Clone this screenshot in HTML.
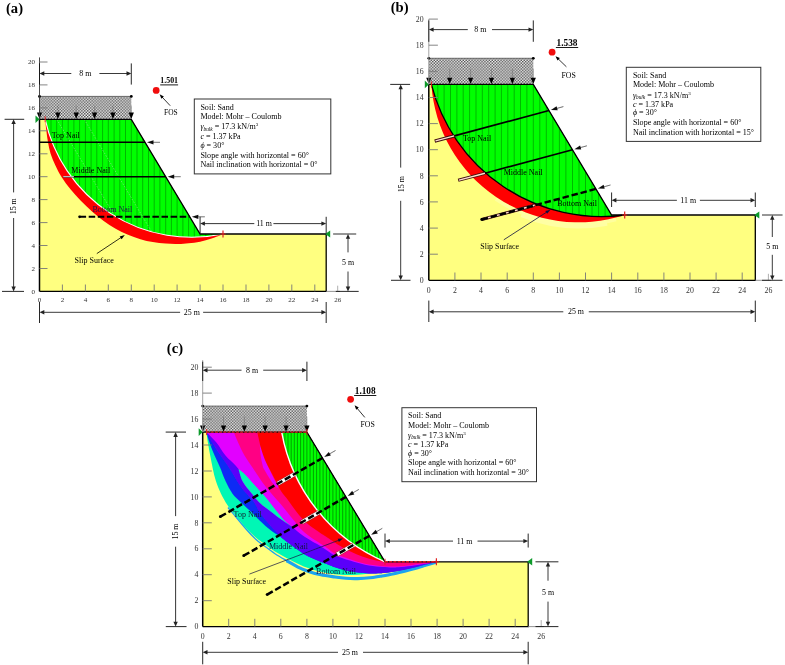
<!DOCTYPE html>
<html lang="en"><head><meta charset="utf-8"><title>Soil nailed slope – slip surfaces</title>
<style>html,body{margin:0;padding:0;background:#fff}svg{display:block}text{font-family:"Liberation Serif",serif}</style></head><body>
<svg width="785" height="665" viewBox="0 0 785 665">
<defs><filter id="soft" x="0" y="0" width="100%" height="100%" filterUnits="userSpaceOnUse"><feGaussianBlur stdDeviation="0.42"/></filter><pattern id="chk" width="2.9" height="2.9" patternUnits="userSpaceOnUse"><rect width="2.9" height="2.9" fill="#fff"/><rect width="1.45" height="1.45" fill="#474747"/><rect x="1.45" y="1.45" width="1.45" height="1.45" fill="#474747"/></pattern></defs>
<rect width="785" height="665" fill="#fff"/>
<g filter="url(#soft)">
<g id="panel-a">
<polygon points="39.5,291.4 39.5,119.3 131.3,119.3 200.1,234.0 326.2,234.0 326.2,291.4" fill="#ffff80"/>
<path d="M45.2,119.3 C45.4,121.3 45.9,127.0 46.4,130.8 C46.8,134.6 47.3,138.5 48.0,142.3 C48.7,146.1 49.4,149.9 50.6,153.8 C51.8,157.6 53.5,161.3 55.3,165.2 C57.2,169.2 59.3,173.6 61.9,177.6 C64.4,181.6 67.3,185.5 70.5,189.3 C73.6,193.2 77.2,197.1 80.8,200.8 C84.4,204.5 88.4,208.3 92.3,211.7 C96.1,215.0 99.9,218.0 103.7,220.9 C107.6,223.7 111.3,226.3 115.2,228.5 C119.1,230.8 123.2,232.8 127.4,234.6 C131.6,236.4 136.2,238.0 140.4,239.2 C144.7,240.5 148.6,241.4 152.8,242.1 C157.0,242.8 161.4,243.3 165.7,243.6 C169.9,243.9 174.5,244.0 178.3,243.9 C182.1,243.9 185.0,243.6 188.6,243.2 C192.2,242.9 196.3,242.5 200.1,241.7 C203.9,241.0 207.7,239.9 211.6,238.6 C215.4,237.4 221.1,234.8 223.0,234.0 L200.1,234.0 L131.3,119.3 Z" fill="#ff0000"/>
<path d="M45.2,119.3 A150.0 150.0 0 0 0 223.0,234.0 L200.1,234.0 L131.3,119.3 Z" fill="#00ff00"/>
<line x1="51.0" y1="119.3" x2="51.0" y2="139.3" stroke="#0a8a0a" stroke-width="0.6" />
<line x1="56.7" y1="119.3" x2="56.7" y2="152.8" stroke="#0a8a0a" stroke-width="0.6" />
<line x1="62.4" y1="119.3" x2="62.4" y2="163.5" stroke="#0a8a0a" stroke-width="0.6" />
<line x1="68.2" y1="119.3" x2="68.2" y2="172.5" stroke="#0a8a0a" stroke-width="0.6" />
<line x1="73.9" y1="119.3" x2="73.9" y2="180.3" stroke="#0a8a0a" stroke-width="0.6" />
<line x1="79.6" y1="119.3" x2="79.6" y2="187.1" stroke="#0a8a0a" stroke-width="0.6" />
<line x1="85.4" y1="119.3" x2="85.4" y2="193.2" stroke="#0a8a0a" stroke-width="0.6" />
<line x1="91.1" y1="119.3" x2="91.1" y2="198.7" stroke="#0a8a0a" stroke-width="0.6" />
<line x1="96.8" y1="119.3" x2="96.8" y2="203.6" stroke="#0a8a0a" stroke-width="0.6" />
<line x1="102.6" y1="119.3" x2="102.6" y2="208.0" stroke="#0a8a0a" stroke-width="0.6" />
<line x1="108.3" y1="119.3" x2="108.3" y2="212.1" stroke="#0a8a0a" stroke-width="0.6" />
<line x1="114.1" y1="119.3" x2="114.1" y2="215.7" stroke="#0a8a0a" stroke-width="0.6" />
<line x1="119.8" y1="119.3" x2="119.8" y2="219.0" stroke="#0a8a0a" stroke-width="0.6" />
<line x1="125.5" y1="119.3" x2="125.5" y2="222.0" stroke="#0a8a0a" stroke-width="0.6" />
<line x1="131.3" y1="119.3" x2="131.3" y2="224.7" stroke="#0a8a0a" stroke-width="0.6" />
<line x1="137.0" y1="128.9" x2="137.0" y2="227.0" stroke="#0a8a0a" stroke-width="0.6" />
<line x1="142.7" y1="138.5" x2="142.7" y2="229.2" stroke="#0a8a0a" stroke-width="0.6" />
<line x1="148.5" y1="148.0" x2="148.5" y2="231.0" stroke="#0a8a0a" stroke-width="0.6" />
<line x1="154.2" y1="157.6" x2="154.2" y2="232.6" stroke="#0a8a0a" stroke-width="0.6" />
<line x1="159.9" y1="167.1" x2="159.9" y2="234.0" stroke="#0a8a0a" stroke-width="0.6" />
<line x1="165.7" y1="176.7" x2="165.7" y2="235.1" stroke="#0a8a0a" stroke-width="0.6" />
<line x1="171.4" y1="186.3" x2="171.4" y2="236.0" stroke="#0a8a0a" stroke-width="0.6" />
<line x1="177.1" y1="195.8" x2="177.1" y2="236.7" stroke="#0a8a0a" stroke-width="0.6" />
<line x1="182.9" y1="205.4" x2="182.9" y2="237.1" stroke="#0a8a0a" stroke-width="0.6" />
<line x1="188.6" y1="214.9" x2="188.6" y2="237.3" stroke="#0a8a0a" stroke-width="0.6" />
<line x1="194.3" y1="224.5" x2="194.3" y2="237.4" stroke="#0a8a0a" stroke-width="0.6" />
<line x1="200.1" y1="234.0" x2="200.1" y2="237.1" stroke="#0a8a0a" stroke-width="0.6" />
<line x1="205.8" y1="234.0" x2="205.8" y2="236.7" stroke="#0a8a0a" stroke-width="0.6" />
<line x1="211.6" y1="234.0" x2="211.6" y2="236.1" stroke="#0a8a0a" stroke-width="0.6" />
<line x1="217.3" y1="234.0" x2="217.3" y2="235.2" stroke="#0a8a0a" stroke-width="0.6" />
<line x1="84.2" y1="119.3" x2="152.0" y2="232.3" stroke="#9ad89a" stroke-width="0.6" stroke-dasharray="1.5 1.5"/>
<line x1="56.7" y1="119.3" x2="114.9" y2="216.3" stroke="#9ad89a" stroke-width="0.6" stroke-dasharray="1.5 1.5"/>
<path d="M45.2,119.3 A150.0 150.0 0 0 0 223.0,234.0" fill="none" stroke="#fff" stroke-width="1.1"/>
<rect x="39.5" y="96.4" width="91.8" height="22.9" fill="url(#chk)"/>
<line x1="39.5" y1="96.4" x2="131.3" y2="96.4" stroke="#666" stroke-width="1" />
<circle cx="39.5" cy="96.4" r="1.4" fill="#000"/>
<circle cx="131.3" cy="96.4" r="1.4" fill="#000"/>
<line x1="39.5" y1="105.6" x2="39.5" y2="114.8" stroke="#666" stroke-width="0.5" />
<polygon points="39.5,119.0 36.9,112.6 42.1,112.6" fill="#000"/>
<line x1="57.9" y1="105.6" x2="57.9" y2="114.8" stroke="#666" stroke-width="0.5" />
<polygon points="57.9,119.0 55.2,112.6 60.5,112.6" fill="#000"/>
<line x1="76.2" y1="105.6" x2="76.2" y2="114.8" stroke="#666" stroke-width="0.5" />
<polygon points="76.2,119.0 73.6,112.6 78.9,112.6" fill="#000"/>
<line x1="94.6" y1="105.6" x2="94.6" y2="114.8" stroke="#666" stroke-width="0.5" />
<polygon points="94.6,119.0 91.9,112.6 97.2,112.6" fill="#000"/>
<line x1="112.9" y1="105.6" x2="112.9" y2="114.8" stroke="#666" stroke-width="0.5" />
<polygon points="112.9,119.0 110.3,112.6 115.6,112.6" fill="#000"/>
<line x1="131.3" y1="105.6" x2="131.3" y2="114.8" stroke="#666" stroke-width="0.5" />
<polygon points="131.3,119.0 128.6,112.6 133.9,112.6" fill="#000"/>
<polyline points="39.5,119.3 131.3,119.3 200.1,234.0 326.2,234.0 326.2,291.4 39.5,291.4" fill="none" stroke="#000" stroke-width="1.3"/>
<line x1="39.5" y1="57.4" x2="39.5" y2="119.3" stroke="#333" stroke-width="0.9" />
<line x1="39.5" y1="119.3" x2="39.5" y2="291.4" stroke="#000" stroke-width="1.5" />
<text x="35.0" y="293.8" font-size="7.0" text-anchor="end" font-weight="normal" fill="#333" >0</text>
<line x1="39.5" y1="268.5" x2="47.5" y2="268.5" stroke="#777" stroke-width="0.9" />
<text x="35.0" y="270.8" font-size="7.0" text-anchor="end" font-weight="normal" fill="#333" >2</text>
<line x1="39.5" y1="245.5" x2="47.5" y2="245.5" stroke="#777" stroke-width="0.9" />
<text x="35.0" y="247.9" font-size="7.0" text-anchor="end" font-weight="normal" fill="#333" >4</text>
<line x1="39.5" y1="222.6" x2="47.5" y2="222.6" stroke="#777" stroke-width="0.9" />
<text x="35.0" y="225.0" font-size="7.0" text-anchor="end" font-weight="normal" fill="#333" >6</text>
<line x1="39.5" y1="199.6" x2="47.5" y2="199.6" stroke="#777" stroke-width="0.9" />
<text x="35.0" y="202.0" font-size="7.0" text-anchor="end" font-weight="normal" fill="#333" >8</text>
<line x1="39.5" y1="176.7" x2="47.5" y2="176.7" stroke="#777" stroke-width="0.9" />
<text x="35.0" y="179.1" font-size="7.0" text-anchor="end" font-weight="normal" fill="#333" >10</text>
<line x1="39.5" y1="153.8" x2="47.5" y2="153.8" stroke="#777" stroke-width="0.9" />
<text x="35.0" y="156.1" font-size="7.0" text-anchor="end" font-weight="normal" fill="#333" >12</text>
<line x1="39.5" y1="130.8" x2="47.5" y2="130.8" stroke="#777" stroke-width="0.9" />
<text x="35.0" y="133.2" font-size="7.0" text-anchor="end" font-weight="normal" fill="#333" >14</text>
<line x1="39.5" y1="107.9" x2="47.5" y2="107.9" stroke="#777" stroke-width="0.9" />
<text x="35.0" y="110.3" font-size="7.0" text-anchor="end" font-weight="normal" fill="#333" >16</text>
<line x1="39.5" y1="84.9" x2="47.5" y2="84.9" stroke="#777" stroke-width="0.9" />
<text x="35.0" y="87.3" font-size="7.0" text-anchor="end" font-weight="normal" fill="#333" >18</text>
<line x1="39.5" y1="62.0" x2="47.5" y2="62.0" stroke="#777" stroke-width="0.9" />
<text x="35.0" y="64.4" font-size="7.0" text-anchor="end" font-weight="normal" fill="#333" >20</text>
<text x="39.5" y="301.7" font-size="7.0" text-anchor="middle" font-weight="normal" fill="#333" >0</text>
<line x1="62.4" y1="291.4" x2="62.4" y2="284.5" stroke="#777" stroke-width="0.9" />
<text x="62.4" y="301.7" font-size="7.0" text-anchor="middle" font-weight="normal" fill="#333" >2</text>
<line x1="85.4" y1="291.4" x2="85.4" y2="284.5" stroke="#777" stroke-width="0.9" />
<text x="85.4" y="301.7" font-size="7.0" text-anchor="middle" font-weight="normal" fill="#333" >4</text>
<line x1="108.3" y1="291.4" x2="108.3" y2="284.5" stroke="#777" stroke-width="0.9" />
<text x="108.3" y="301.7" font-size="7.0" text-anchor="middle" font-weight="normal" fill="#333" >6</text>
<line x1="131.3" y1="291.4" x2="131.3" y2="284.5" stroke="#777" stroke-width="0.9" />
<text x="131.3" y="301.7" font-size="7.0" text-anchor="middle" font-weight="normal" fill="#333" >8</text>
<line x1="154.2" y1="291.4" x2="154.2" y2="284.5" stroke="#777" stroke-width="0.9" />
<text x="154.2" y="301.7" font-size="7.0" text-anchor="middle" font-weight="normal" fill="#333" >10</text>
<line x1="177.1" y1="291.4" x2="177.1" y2="284.5" stroke="#777" stroke-width="0.9" />
<text x="177.1" y="301.7" font-size="7.0" text-anchor="middle" font-weight="normal" fill="#333" >12</text>
<line x1="200.1" y1="291.4" x2="200.1" y2="284.5" stroke="#777" stroke-width="0.9" />
<text x="200.1" y="301.7" font-size="7.0" text-anchor="middle" font-weight="normal" fill="#333" >14</text>
<line x1="223.0" y1="291.4" x2="223.0" y2="284.5" stroke="#777" stroke-width="0.9" />
<text x="223.0" y="301.7" font-size="7.0" text-anchor="middle" font-weight="normal" fill="#333" >16</text>
<line x1="246.0" y1="291.4" x2="246.0" y2="284.5" stroke="#777" stroke-width="0.9" />
<text x="246.0" y="301.7" font-size="7.0" text-anchor="middle" font-weight="normal" fill="#333" >18</text>
<line x1="268.9" y1="291.4" x2="268.9" y2="284.5" stroke="#777" stroke-width="0.9" />
<text x="268.9" y="301.7" font-size="7.0" text-anchor="middle" font-weight="normal" fill="#333" >20</text>
<line x1="291.8" y1="291.4" x2="291.8" y2="284.5" stroke="#777" stroke-width="0.9" />
<text x="291.8" y="301.7" font-size="7.0" text-anchor="middle" font-weight="normal" fill="#333" >22</text>
<line x1="314.8" y1="291.4" x2="314.8" y2="284.5" stroke="#777" stroke-width="0.9" />
<text x="314.8" y="301.7" font-size="7.0" text-anchor="middle" font-weight="normal" fill="#333" >24</text>
<text x="337.7" y="301.7" font-size="7.0" text-anchor="middle" font-weight="normal" fill="#333" >26</text>
<line x1="326.2" y1="291.4" x2="340.0" y2="291.4" stroke="#888" stroke-width="0.9" />
<line x1="337.7" y1="291.4" x2="337.7" y2="285.7" stroke="#999" stroke-width="0.8" />
<line x1="39.5" y1="142.3" x2="145.0" y2="142.3" stroke="#000" stroke-width="1.6" />
<line x1="63.2" y1="176.7" x2="165.7" y2="176.7" stroke="#000" stroke-width="1.6" />
<line x1="63.2" y1="176.7" x2="73.9" y2="176.7" stroke="#ddd" stroke-width="1.1" />
<line x1="79.6" y1="216.8" x2="189.8" y2="216.8" stroke="#000" stroke-width="2.0" stroke-dasharray="6.5 2.6"/>
<circle cx="79.6" cy="216.8" r="1.4" fill="#000"/>
<line x1="160.0" y1="142.3" x2="150.9" y2="142.3" stroke="#111" stroke-width="0.6" />
<polygon points="147.0,142.3 153.5,140.2 153.5,144.4" fill="#111"/>
<line x1="180.7" y1="176.7" x2="171.6" y2="176.7" stroke="#111" stroke-width="0.6" />
<polygon points="167.7,176.7 174.2,174.6 174.2,178.8" fill="#111"/>
<line x1="204.8" y1="216.8" x2="195.7" y2="216.8" stroke="#111" stroke-width="0.6" />
<polygon points="191.8,216.8 198.3,214.7 198.3,218.9" fill="#111"/>
<text x="51.7" y="138.0" font-size="8" text-anchor="start" font-weight="normal" fill="#000" >Top Nail</text>
<text x="71.3" y="173.0" font-size="8" text-anchor="start" font-weight="normal" fill="#000" >Middle Nail</text>
<text x="92.5" y="211.5" font-size="8" text-anchor="start" font-weight="normal" fill="#20104a" >Bottom Nail</text>
<text x="74.6" y="263.2" font-size="8" text-anchor="start" font-weight="normal" fill="#000" >Slip Surface</text>
<line x1="96.8" y1="253.6" x2="122.3" y2="236.7" stroke="#000" stroke-width="0.8" />
<polygon points="124.8,235.0 121.6,239.2 119.7,236.4" fill="#000"/>
<polygon points="35.5,115.5 35.5,123.1 39.5,119.3" fill="#0a9a2a"/>
<polygon points="330.2,230.4 330.2,237.6 325.2,234.0" fill="#0a9a2a"/>
<line x1="45.2" y1="116.3" x2="45.2" y2="122.3" stroke="#e02020" stroke-width="1" />
<line x1="223.0" y1="230.5" x2="223.0" y2="237.5" stroke="#e02020" stroke-width="1.2" />
<line x1="220.5" y1="234.0" x2="225.5" y2="234.0" stroke="#e02020" stroke-width="1" />
<circle cx="156.2" cy="90.4" r="3.4" fill="#f01010"/>
<text x="169.2" y="83.3" font-size="7.9" text-anchor="middle" font-weight="bold" fill="#000" >1.501</text>
<line x1="160.2" y1="84.9" x2="178.1" y2="84.9" stroke="#000" stroke-width="0.9" />
<line x1="170.2" y1="105.7" x2="161.4" y2="96.3" stroke="#000" stroke-width="0.8" />
<polygon points="159.6,94.3 163.9,96.4 161.4,98.8" fill="#000"/>
<text x="170.8" y="115.2" font-size="7.4" text-anchor="middle" font-weight="normal" fill="#000" >FOS</text>
<line x1="39.5" y1="63.4" x2="39.5" y2="84.6" stroke="#111" stroke-width="0.9" />
<line x1="131.3" y1="63.4" x2="131.3" y2="84.6" stroke="#111" stroke-width="0.9" />
<line x1="71.3" y1="73.5" x2="42.4" y2="73.5" stroke="#222" stroke-width="0.9" />
<polygon points="39.5,73.5 44.3,71.3 44.3,75.7" fill="#222"/>
<line x1="99.4" y1="73.5" x2="128.4" y2="73.5" stroke="#222" stroke-width="0.9" />
<polygon points="131.3,73.5 126.5,75.7 126.5,71.3" fill="#222"/>
<text x="85.4" y="76.0" font-size="7.9" text-anchor="middle" font-weight="normal" fill="#000" >8 m</text>
<line x1="4.6" y1="119.3" x2="24.2" y2="119.3" stroke="#111" stroke-width="0.9" />
<line x1="2.0" y1="291.4" x2="24.0" y2="291.4" stroke="#111" stroke-width="0.9" />
<line x1="13.6" y1="192.4" x2="13.6" y2="122.2" stroke="#222" stroke-width="0.9" />
<polygon points="13.6,119.3 15.8,124.1 11.4,124.1" fill="#222"/>
<line x1="13.6" y1="218.0" x2="13.6" y2="288.5" stroke="#222" stroke-width="0.9" />
<polygon points="13.6,291.4 11.4,286.6 15.8,286.6" fill="#222"/>
<text transform="translate(16.4,206.3) rotate(-90)" font-size="7.9" text-anchor="middle">15 m</text>
<line x1="200.1" y1="216.8" x2="200.1" y2="233.3" stroke="#111" stroke-width="0.9" />
<line x1="326.2" y1="216.8" x2="326.2" y2="233.3" stroke="#111" stroke-width="0.9" />
<line x1="254.3" y1="223.6" x2="203.0" y2="223.6" stroke="#222" stroke-width="0.9" />
<polygon points="200.1,223.6 204.9,221.4 204.9,225.8" fill="#222"/>
<line x1="273.4" y1="223.6" x2="323.4" y2="223.6" stroke="#222" stroke-width="0.9" />
<polygon points="326.2,223.6 321.4,225.8 321.4,221.4" fill="#222"/>
<text x="264.0" y="226.1" font-size="7.9" text-anchor="middle" font-weight="normal" fill="#000" >11 m</text>
<line x1="333.2" y1="234.0" x2="356.2" y2="234.0" stroke="#111" stroke-width="0.9" />
<line x1="335.8" y1="291.4" x2="358.7" y2="291.4" stroke="#111" stroke-width="0.9" />
<line x1="348.0" y1="252.4" x2="348.0" y2="236.9" stroke="#222" stroke-width="0.9" />
<polygon points="348.0,234.0 350.2,238.8 345.8,238.8" fill="#222"/>
<line x1="348.0" y1="271.5" x2="348.0" y2="288.5" stroke="#222" stroke-width="0.9" />
<polygon points="348.0,291.4 345.8,286.6 350.2,286.6" fill="#222"/>
<text x="348.0" y="264.6" font-size="7.9" text-anchor="middle" font-weight="normal" fill="#000" >5 m</text>
<line x1="39.5" y1="302.0" x2="39.5" y2="323.0" stroke="#111" stroke-width="0.9" />
<line x1="326.2" y1="302.0" x2="326.2" y2="323.0" stroke="#111" stroke-width="0.9" />
<line x1="180.1" y1="312.3" x2="42.4" y2="312.3" stroke="#222" stroke-width="0.9" />
<polygon points="39.5,312.3 44.3,310.1 44.3,314.5" fill="#222"/>
<line x1="203.1" y1="312.3" x2="323.4" y2="312.3" stroke="#222" stroke-width="0.9" />
<polygon points="326.2,312.3 321.4,314.5 321.4,310.1" fill="#222"/>
<text x="191.8" y="314.8" font-size="7.9" text-anchor="middle" font-weight="normal" fill="#000" >25 m</text>
<rect x="194.3" y="99.0" width="136.5" height="74.9" fill="#fff" stroke="#333" stroke-width="1"/>
<text x="200.4" y="109.9" font-size="8.05" text-anchor="start" font-weight="normal" fill="#000" >Soil: Sand</text>
<text x="200.4" y="118.9" font-size="8.05" text-anchor="start" font-weight="normal" fill="#000" >Model: Mohr – Coulomb</text>
<text x="200.4" y="129.3" font-size="8.05" text-anchor="start" font-weight="normal" fill="#000" ><tspan font-style="italic">γ</tspan><tspan font-size="5.3" dy="1.5" font-style="italic">bulk</tspan><tspan dy="-1.5"> = 17.3 kN/m</tspan><tspan font-size="5.0" dy="-3">3</tspan></text>
<text x="200.4" y="139.0" font-size="8.05" text-anchor="start" font-weight="normal" fill="#000" ><tspan font-style="italic">c</tspan> = 1.37 kPa</text>
<text x="200.4" y="147.9" font-size="8.05" text-anchor="start" font-weight="normal" fill="#000" ><tspan font-style="italic">ϕ</tspan> = 30°</text>
<text x="200.4" y="158.1" font-size="8.05" text-anchor="start" font-weight="normal" fill="#000" >Slope angle with horizontal = 60°</text>
<text x="200.4" y="167.0" font-size="8.05" text-anchor="start" font-weight="normal" fill="#000" >Nail inclination with horizontal = 0°</text>
<text x="6.0" y="12.6" font-size="14.6" text-anchor="start" font-weight="bold" fill="#000" >(a)</text>
</g>
<g id="panel-b">
<polygon points="428.8,280.3 428.8,84.4 533.3,84.4 611.6,215.0 755.3,215.0 755.3,280.3" fill="#ffff80"/>
<path d="M496.7,197.6 A147.7 147.7 0 0 0 615.6,217.8" fill="none" stroke="#ffff9e" stroke-width="7" stroke-linecap="butt"/>
<path d="M522.8,211.5 A147.7 147.7 0 0 0 606.4,219.8" fill="none" stroke="#ffffa4" stroke-width="12" stroke-linecap="butt"/>
<path d="M431.4,84.4 A147.7 147.7 0 0 0 624.7,215.0 L611.6,215.0 L533.3,84.4 Z" fill="#ff0000"/>
<path d="M431.4,84.4 A175.3 175.3 0 0 0 624.7,215.0 L611.6,215.0 L533.3,84.4 Z" fill="#00ff00"/>
<line x1="437.8" y1="84.4" x2="437.8" y2="104.3" stroke="#0a8a0a" stroke-width="0.6" />
<line x1="444.1" y1="84.4" x2="444.1" y2="118.8" stroke="#0a8a0a" stroke-width="0.6" />
<line x1="450.5" y1="84.4" x2="450.5" y2="130.6" stroke="#0a8a0a" stroke-width="0.6" />
<line x1="456.9" y1="84.4" x2="456.9" y2="140.6" stroke="#0a8a0a" stroke-width="0.6" />
<line x1="463.2" y1="84.4" x2="463.2" y2="149.2" stroke="#0a8a0a" stroke-width="0.6" />
<line x1="469.6" y1="84.4" x2="469.6" y2="156.9" stroke="#0a8a0a" stroke-width="0.6" />
<line x1="476.0" y1="84.4" x2="476.0" y2="163.8" stroke="#0a8a0a" stroke-width="0.6" />
<line x1="482.3" y1="84.4" x2="482.3" y2="170.0" stroke="#0a8a0a" stroke-width="0.6" />
<line x1="488.7" y1="84.4" x2="488.7" y2="175.6" stroke="#0a8a0a" stroke-width="0.6" />
<line x1="495.1" y1="84.4" x2="495.1" y2="180.7" stroke="#0a8a0a" stroke-width="0.6" />
<line x1="501.4" y1="84.4" x2="501.4" y2="185.3" stroke="#0a8a0a" stroke-width="0.6" />
<line x1="507.8" y1="84.4" x2="507.8" y2="189.5" stroke="#0a8a0a" stroke-width="0.6" />
<line x1="514.2" y1="84.4" x2="514.2" y2="193.4" stroke="#0a8a0a" stroke-width="0.6" />
<line x1="520.5" y1="84.4" x2="520.5" y2="196.8" stroke="#0a8a0a" stroke-width="0.6" />
<line x1="526.9" y1="84.4" x2="526.9" y2="200.0" stroke="#0a8a0a" stroke-width="0.6" />
<line x1="533.3" y1="84.4" x2="533.3" y2="202.8" stroke="#0a8a0a" stroke-width="0.6" />
<line x1="539.8" y1="95.3" x2="539.8" y2="205.4" stroke="#0a8a0a" stroke-width="0.6" />
<line x1="546.3" y1="106.2" x2="546.3" y2="207.7" stroke="#0a8a0a" stroke-width="0.6" />
<line x1="552.9" y1="117.1" x2="552.9" y2="209.7" stroke="#0a8a0a" stroke-width="0.6" />
<line x1="559.4" y1="127.9" x2="559.4" y2="211.5" stroke="#0a8a0a" stroke-width="0.6" />
<line x1="565.9" y1="138.8" x2="565.9" y2="213.0" stroke="#0a8a0a" stroke-width="0.6" />
<line x1="572.5" y1="149.7" x2="572.5" y2="214.2" stroke="#0a8a0a" stroke-width="0.6" />
<line x1="579.0" y1="160.6" x2="579.0" y2="215.1" stroke="#0a8a0a" stroke-width="0.6" />
<line x1="585.5" y1="171.5" x2="585.5" y2="215.9" stroke="#0a8a0a" stroke-width="0.6" />
<line x1="592.0" y1="182.4" x2="592.0" y2="216.3" stroke="#0a8a0a" stroke-width="0.6" />
<line x1="598.6" y1="193.2" x2="598.6" y2="216.5" stroke="#0a8a0a" stroke-width="0.6" />
<line x1="605.1" y1="204.1" x2="605.1" y2="216.5" stroke="#0a8a0a" stroke-width="0.6" />
<line x1="611.6" y1="215.0" x2="611.6" y2="216.3" stroke="#0a8a0a" stroke-width="0.6" />
<line x1="618.2" y1="215.0" x2="618.2" y2="215.8" stroke="#0a8a0a" stroke-width="0.6" />
<path d="M431.4,84.4 A175.3 175.3 0 0 0 624.7,215.0" fill="none" stroke="#000" stroke-width="1.3"/>
<rect x="428.8" y="58.3" width="104.5" height="26.1" fill="url(#chk)"/>
<line x1="428.8" y1="58.3" x2="533.3" y2="58.3" stroke="#666" stroke-width="1" />
<circle cx="428.8" cy="58.3" r="1.4" fill="#000"/>
<circle cx="533.3" cy="58.3" r="1.4" fill="#000"/>
<line x1="428.8" y1="68.7" x2="428.8" y2="79.2" stroke="#666" stroke-width="0.5" />
<polygon points="428.8,84.1 426.2,77.7 431.4,77.7" fill="#000"/>
<line x1="449.7" y1="68.7" x2="449.7" y2="79.2" stroke="#666" stroke-width="0.5" />
<polygon points="449.7,84.1 447.0,77.7 452.3,77.7" fill="#000"/>
<line x1="470.6" y1="68.7" x2="470.6" y2="79.2" stroke="#666" stroke-width="0.5" />
<polygon points="470.6,84.1 467.9,77.7 473.2,77.7" fill="#000"/>
<line x1="491.5" y1="68.7" x2="491.5" y2="79.2" stroke="#666" stroke-width="0.5" />
<polygon points="491.5,84.1 488.8,77.7 494.1,77.7" fill="#000"/>
<line x1="512.4" y1="68.7" x2="512.4" y2="79.2" stroke="#666" stroke-width="0.5" />
<polygon points="512.4,84.1 509.7,77.7 515.0,77.7" fill="#000"/>
<line x1="533.3" y1="68.7" x2="533.3" y2="79.2" stroke="#666" stroke-width="0.5" />
<polygon points="533.3,84.1 530.6,77.7 535.9,77.7" fill="#000"/>
<polyline points="428.8,84.4 533.3,84.4 611.6,215.0 755.3,215.0 755.3,280.3 428.8,280.3" fill="none" stroke="#000" stroke-width="1.3"/>
<line x1="428.8" y1="19.1" x2="428.8" y2="84.4" stroke="#999" stroke-width="0.9" />
<line x1="428.8" y1="84.4" x2="428.8" y2="280.3" stroke="#000" stroke-width="1.5" />
<text x="423.6" y="283.0" font-size="7.8" text-anchor="end" font-weight="normal" fill="#333" >0</text>
<line x1="428.8" y1="254.2" x2="437.9" y2="254.2" stroke="#777" stroke-width="0.9" />
<text x="423.6" y="256.8" font-size="7.8" text-anchor="end" font-weight="normal" fill="#333" >2</text>
<line x1="428.8" y1="228.1" x2="437.9" y2="228.1" stroke="#777" stroke-width="0.9" />
<text x="423.6" y="230.7" font-size="7.8" text-anchor="end" font-weight="normal" fill="#333" >4</text>
<line x1="428.8" y1="201.9" x2="437.9" y2="201.9" stroke="#777" stroke-width="0.9" />
<text x="423.6" y="204.6" font-size="7.8" text-anchor="end" font-weight="normal" fill="#333" >6</text>
<line x1="428.8" y1="175.8" x2="437.9" y2="175.8" stroke="#777" stroke-width="0.9" />
<text x="423.6" y="178.5" font-size="7.8" text-anchor="end" font-weight="normal" fill="#333" >8</text>
<line x1="428.8" y1="149.7" x2="437.9" y2="149.7" stroke="#777" stroke-width="0.9" />
<text x="423.6" y="152.4" font-size="7.8" text-anchor="end" font-weight="normal" fill="#333" >10</text>
<line x1="428.8" y1="123.6" x2="437.9" y2="123.6" stroke="#777" stroke-width="0.9" />
<text x="423.6" y="126.2" font-size="7.8" text-anchor="end" font-weight="normal" fill="#333" >12</text>
<line x1="428.8" y1="97.5" x2="437.9" y2="97.5" stroke="#777" stroke-width="0.9" />
<text x="423.6" y="100.1" font-size="7.8" text-anchor="end" font-weight="normal" fill="#333" >14</text>
<line x1="428.8" y1="71.3" x2="437.9" y2="71.3" stroke="#777" stroke-width="0.9" />
<text x="423.6" y="74.0" font-size="7.8" text-anchor="end" font-weight="normal" fill="#333" >16</text>
<line x1="428.8" y1="45.2" x2="437.9" y2="45.2" stroke="#777" stroke-width="0.9" />
<text x="423.6" y="47.9" font-size="7.8" text-anchor="end" font-weight="normal" fill="#333" >18</text>
<line x1="428.8" y1="19.1" x2="437.9" y2="19.1" stroke="#777" stroke-width="0.9" />
<text x="423.6" y="21.8" font-size="7.8" text-anchor="end" font-weight="normal" fill="#333" >20</text>
<text x="428.8" y="292.6" font-size="7.8" text-anchor="middle" font-weight="normal" fill="#333" >0</text>
<line x1="454.9" y1="280.3" x2="454.9" y2="272.5" stroke="#777" stroke-width="0.9" />
<text x="454.9" y="292.6" font-size="7.8" text-anchor="middle" font-weight="normal" fill="#333" >2</text>
<line x1="481.0" y1="280.3" x2="481.0" y2="272.5" stroke="#777" stroke-width="0.9" />
<text x="481.0" y="292.6" font-size="7.8" text-anchor="middle" font-weight="normal" fill="#333" >4</text>
<line x1="507.2" y1="280.3" x2="507.2" y2="272.5" stroke="#777" stroke-width="0.9" />
<text x="507.2" y="292.6" font-size="7.8" text-anchor="middle" font-weight="normal" fill="#333" >6</text>
<line x1="533.3" y1="280.3" x2="533.3" y2="272.5" stroke="#777" stroke-width="0.9" />
<text x="533.3" y="292.6" font-size="7.8" text-anchor="middle" font-weight="normal" fill="#333" >8</text>
<line x1="559.4" y1="280.3" x2="559.4" y2="272.5" stroke="#777" stroke-width="0.9" />
<text x="559.4" y="292.6" font-size="7.8" text-anchor="middle" font-weight="normal" fill="#333" >10</text>
<line x1="585.5" y1="280.3" x2="585.5" y2="272.5" stroke="#777" stroke-width="0.9" />
<text x="585.5" y="292.6" font-size="7.8" text-anchor="middle" font-weight="normal" fill="#333" >12</text>
<line x1="611.6" y1="280.3" x2="611.6" y2="272.5" stroke="#777" stroke-width="0.9" />
<text x="611.6" y="292.6" font-size="7.8" text-anchor="middle" font-weight="normal" fill="#333" >14</text>
<line x1="637.8" y1="280.3" x2="637.8" y2="272.5" stroke="#777" stroke-width="0.9" />
<text x="637.8" y="292.6" font-size="7.8" text-anchor="middle" font-weight="normal" fill="#333" >16</text>
<line x1="663.9" y1="280.3" x2="663.9" y2="272.5" stroke="#777" stroke-width="0.9" />
<text x="663.9" y="292.6" font-size="7.8" text-anchor="middle" font-weight="normal" fill="#333" >18</text>
<line x1="690.0" y1="280.3" x2="690.0" y2="272.5" stroke="#777" stroke-width="0.9" />
<text x="690.0" y="292.6" font-size="7.8" text-anchor="middle" font-weight="normal" fill="#333" >20</text>
<line x1="716.1" y1="280.3" x2="716.1" y2="272.5" stroke="#777" stroke-width="0.9" />
<text x="716.1" y="292.6" font-size="7.8" text-anchor="middle" font-weight="normal" fill="#333" >22</text>
<line x1="742.2" y1="280.3" x2="742.2" y2="272.5" stroke="#777" stroke-width="0.9" />
<text x="742.2" y="292.6" font-size="7.8" text-anchor="middle" font-weight="normal" fill="#333" >24</text>
<text x="768.4" y="292.6" font-size="7.8" text-anchor="middle" font-weight="normal" fill="#333" >26</text>
<line x1="755.3" y1="280.3" x2="771.0" y2="280.3" stroke="#888" stroke-width="0.9" />
<line x1="768.4" y1="280.3" x2="768.4" y2="273.8" stroke="#999" stroke-width="0.8" />
<line x1="434.7" y1="141.1" x2="454.3" y2="135.9" stroke="#401010" stroke-width="3.2" />
<line x1="435.5" y1="140.9" x2="454.3" y2="135.9" stroke="#ffe0d0" stroke-width="1.4" />
<line x1="454.3" y1="135.9" x2="549.0" y2="110.5" stroke="#000" stroke-width="1.7" />
<line x1="563.4" y1="106.6" x2="554.7" y2="109.0" stroke="#111" stroke-width="0.6" />
<polygon points="550.9,110.0 556.6,106.3 557.7,110.3" fill="#111"/>
<line x1="458.2" y1="180.3" x2="485.0" y2="173.2" stroke="#401010" stroke-width="3.2" />
<line x1="459.0" y1="180.1" x2="485.0" y2="173.2" stroke="#ffe0d0" stroke-width="1.4" />
<line x1="485.0" y1="173.2" x2="572.5" y2="149.7" stroke="#000" stroke-width="1.7" />
<line x1="586.9" y1="145.8" x2="578.2" y2="148.2" stroke="#111" stroke-width="0.6" />
<polygon points="574.4,149.2 580.1,145.5 581.2,149.5" fill="#111"/>
<line x1="481.7" y1="219.5" x2="534.6" y2="205.3" stroke="#401010" stroke-width="3.2" />
<line x1="482.5" y1="219.3" x2="534.6" y2="205.3" stroke="#ffe0d0" stroke-width="1.4" />
<line x1="481.7" y1="219.5" x2="596.0" y2="188.9" stroke="#000" stroke-width="2.4" stroke-dasharray="6.5 2.8"/>
<circle cx="481.7" cy="219.5" r="1.4" fill="#000"/>
<line x1="610.5" y1="185.0" x2="601.7" y2="187.4" stroke="#111" stroke-width="0.6" />
<polygon points="597.9,188.4 603.6,184.7 604.7,188.7" fill="#111"/>
<text x="463.0" y="141.1" font-size="8" text-anchor="start" font-weight="normal" fill="#000" >Top Nail</text>
<text x="503.7" y="175.3" font-size="8" text-anchor="start" font-weight="normal" fill="#000" >Middle Nail</text>
<text x="557.2" y="206.4" font-size="8" text-anchor="start" font-weight="normal" fill="#000" >Bottom Nail</text>
<text x="480.3" y="248.7" font-size="7.9" text-anchor="start" font-weight="normal" fill="#000" >Slip Surface</text>
<line x1="503.8" y1="239.8" x2="547.9" y2="211.3" stroke="#101040" stroke-width="0.8" />
<polygon points="550.4,209.7 547.1,213.8 545.3,211.0" fill="#101040"/>
<polygon points="424.8,80.6 424.8,88.2 428.8,84.4" fill="#0a9a2a"/>
<polygon points="759.3,211.4 759.3,218.6 754.3,215.0" fill="#0a9a2a"/>
<line x1="431.4" y1="81.4" x2="431.4" y2="87.4" stroke="#e02020" stroke-width="1" />
<line x1="624.7" y1="211.5" x2="624.7" y2="218.5" stroke="#e02020" stroke-width="1.2" />
<line x1="622.2" y1="215.0" x2="627.2" y2="215.0" stroke="#e02020" stroke-width="1" />
<circle cx="552.1" cy="52.2" r="3.4" fill="#f01010"/>
<text x="567.0" y="45.9" font-size="9.3" text-anchor="middle" font-weight="bold" fill="#000" >1.538</text>
<line x1="555.9" y1="47.5" x2="578.2" y2="47.5" stroke="#000" stroke-width="0.9" />
<line x1="566.4" y1="66.8" x2="557.4" y2="58.1" stroke="#000" stroke-width="0.8" />
<polygon points="555.5,56.2 559.9,58.1 557.5,60.6" fill="#000"/>
<text x="568.6" y="77.7" font-size="7.8" text-anchor="middle" font-weight="normal" fill="#000" >FOS</text>
<line x1="428.8" y1="20.4" x2="428.8" y2="41.8" stroke="#111" stroke-width="0.9" />
<line x1="533.3" y1="20.4" x2="533.3" y2="41.8" stroke="#111" stroke-width="0.9" />
<line x1="467.8" y1="29.6" x2="431.7" y2="29.6" stroke="#222" stroke-width="0.9" />
<polygon points="428.8,29.6 433.6,27.4 433.6,31.8" fill="#222"/>
<line x1="492.0" y1="29.6" x2="530.4" y2="29.6" stroke="#222" stroke-width="0.9" />
<polygon points="533.3,29.6 528.5,31.8 528.5,27.4" fill="#222"/>
<text x="480.3" y="32.1" font-size="7.9" text-anchor="middle" font-weight="normal" fill="#000" >8 m</text>
<line x1="390.2" y1="84.4" x2="410.1" y2="84.4" stroke="#111" stroke-width="0.9" />
<line x1="391.0" y1="280.3" x2="410.5" y2="280.3" stroke="#111" stroke-width="0.9" />
<line x1="400.7" y1="167.6" x2="400.7" y2="87.3" stroke="#222" stroke-width="0.9" />
<polygon points="400.7,84.4 402.9,89.2 398.5,89.2" fill="#222"/>
<line x1="400.7" y1="200.8" x2="400.7" y2="277.4" stroke="#222" stroke-width="0.9" />
<polygon points="400.7,280.3 398.5,275.5 402.9,275.5" fill="#222"/>
<text transform="translate(403.5,184.2) rotate(-90)" font-size="7.9" text-anchor="middle">15 m</text>
<line x1="611.6" y1="192.5" x2="611.6" y2="207.0" stroke="#111" stroke-width="0.9" />
<line x1="755.3" y1="192.5" x2="755.3" y2="207.0" stroke="#111" stroke-width="0.9" />
<line x1="676.9" y1="200.3" x2="614.5" y2="200.3" stroke="#222" stroke-width="0.9" />
<polygon points="611.6,200.3 616.4,198.1 616.4,202.5" fill="#222"/>
<line x1="699.9" y1="200.3" x2="752.4" y2="200.3" stroke="#222" stroke-width="0.9" />
<polygon points="755.3,200.3 750.5,202.5 750.5,198.1" fill="#222"/>
<text x="688.2" y="202.8" font-size="7.9" text-anchor="middle" font-weight="normal" fill="#000" >11 m</text>
<line x1="762.0" y1="215.0" x2="782.5" y2="215.0" stroke="#111" stroke-width="0.9" />
<line x1="762.0" y1="280.3" x2="782.5" y2="280.3" stroke="#111" stroke-width="0.9" />
<line x1="772.3" y1="237.0" x2="772.3" y2="217.9" stroke="#222" stroke-width="0.9" />
<polygon points="772.3,215.0 774.5,219.8 770.1,219.8" fill="#222"/>
<line x1="772.3" y1="254.8" x2="772.3" y2="277.4" stroke="#222" stroke-width="0.9" />
<polygon points="772.3,280.3 770.1,275.5 774.5,275.5" fill="#222"/>
<text x="772.3" y="249.1" font-size="7.9" text-anchor="middle" font-weight="normal" fill="#000" >5 m</text>
<line x1="428.8" y1="300.6" x2="428.8" y2="322.0" stroke="#111" stroke-width="0.9" />
<line x1="755.3" y1="300.6" x2="755.3" y2="322.0" stroke="#111" stroke-width="0.9" />
<line x1="563.3" y1="311.8" x2="431.7" y2="311.8" stroke="#222" stroke-width="0.9" />
<polygon points="428.8,311.8 433.6,309.6 433.6,314.0" fill="#222"/>
<line x1="588.8" y1="311.8" x2="752.4" y2="311.8" stroke="#222" stroke-width="0.9" />
<polygon points="755.3,311.8 750.5,314.0 750.5,309.6" fill="#222"/>
<text x="576.0" y="314.3" font-size="7.9" text-anchor="middle" font-weight="normal" fill="#000" >25 m</text>
<rect x="626.3" y="67.3" width="134.5" height="74.1" fill="#fff" stroke="#333" stroke-width="1"/>
<text x="632.9" y="77.7" font-size="8.05" text-anchor="start" font-weight="normal" fill="#000" >Soil: Sand</text>
<text x="632.9" y="87.1" font-size="8.05" text-anchor="start" font-weight="normal" fill="#000" >Model: Mohr – Coulomb</text>
<text x="632.9" y="97.6" font-size="8.05" text-anchor="start" font-weight="normal" fill="#000" ><tspan font-style="italic">γ</tspan><tspan font-size="5.3" dy="1.5" font-style="italic">bulk</tspan><tspan dy="-1.5"> = 17.3 kN/m</tspan><tspan font-size="5.0" dy="-3">3</tspan></text>
<text x="632.9" y="106.5" font-size="8.05" text-anchor="start" font-weight="normal" fill="#000" ><tspan font-style="italic">c</tspan> = 1.37 kPa</text>
<text x="632.9" y="115.2" font-size="8.05" text-anchor="start" font-weight="normal" fill="#000" ><tspan font-style="italic">ϕ</tspan> = 30°</text>
<text x="632.9" y="125.4" font-size="8.05" text-anchor="start" font-weight="normal" fill="#000" >Slope angle with horizontal = 60°</text>
<text x="632.9" y="134.5" font-size="8.05" text-anchor="start" font-weight="normal" fill="#000" >Nail inclination with horizontal = 15°</text>
<text x="390.7" y="12.2" font-size="14.6" text-anchor="start" font-weight="bold" fill="#000" >(b)</text>
</g>
<g id="panel-c">
<polygon points="202.7,626.6 202.7,432.1 306.9,432.1 385.0,561.8 528.2,561.8 528.2,626.6" fill="#ffff80"/>
<path d="M228.0,507.5 C229.3,509.1 233.0,513.4 236.0,517.0 C239.0,520.6 242.7,525.2 246.0,529.0 C249.3,532.8 253.1,536.8 256.0,539.5 C258.9,542.2 260.5,543.1 263.7,545.5 C266.9,547.9 271.2,551.2 275.0,553.7 C278.8,556.2 282.7,558.4 286.5,560.6 C290.3,562.8 294.1,565.2 297.9,567.1 C301.7,569.0 305.6,570.4 309.4,571.7 C313.2,573.0 316.6,573.9 320.9,574.8 C325.2,575.7 330.8,576.4 335.0,577.0 C339.2,577.6 342.2,578.0 346.0,578.3 C349.8,578.6 353.6,578.7 357.6,578.6 C361.6,578.5 366.3,578.2 370.0,577.8 C373.7,577.4 377.4,576.6 380.0,576.2 C382.6,575.8 382.5,576.0 385.5,575.4 C388.5,574.8 393.9,573.8 398.2,572.8 C402.4,571.8 406.8,570.8 411.0,569.6 C415.2,568.4 419.4,567.1 423.7,565.8 C428.0,564.5 434.6,562.6 436.8,562.0" fill="none" stroke="#1aa4f0" stroke-width="1.3"/>
<path d="M286.5,560.6 C288.4,561.7 294.1,565.2 297.9,567.1 C301.7,569.0 305.6,570.4 309.4,571.7 C313.2,573.0 316.6,573.9 320.9,574.8 C325.2,575.7 330.8,576.4 335.0,577.0 C339.2,577.6 342.2,578.0 346.0,578.3 C349.8,578.6 353.6,578.7 357.6,578.6 C361.6,578.5 366.3,578.2 370.0,577.8 C373.7,577.4 377.4,576.6 380.0,576.2 C382.6,575.8 382.5,576.0 385.5,575.4 C388.5,574.8 393.9,573.8 398.2,572.8 C402.4,571.8 406.8,570.8 411.0,569.6 C415.2,568.4 419.4,567.1 423.7,565.8 C428.0,564.5 434.6,562.6 436.8,562.0" fill="none" stroke="#1aa4f0" stroke-width="3.1"/>
<path d="M206.5,432.2 C206.7,433.9 207.3,438.8 207.9,442.7 C208.5,446.6 209.4,451.2 210.2,455.5 C211.0,459.8 211.8,463.9 212.7,468.2 C213.6,472.4 214.5,476.8 215.9,481.0 C217.3,485.2 219.1,489.7 221.0,493.7 C222.9,497.7 225.2,501.6 227.4,505.0 C229.6,508.4 231.5,510.4 234.4,514.0 C237.3,517.6 241.0,522.5 244.6,526.5 C248.2,530.5 252.7,534.8 256.1,537.8 C259.5,540.8 261.9,542.2 265.0,544.5 C268.1,546.8 271.4,549.2 275.0,551.4 C278.6,553.6 282.7,555.8 286.5,557.9 C290.3,560.0 294.1,561.9 297.9,563.7 C301.7,565.5 305.6,567.3 309.4,568.6 C313.2,569.9 316.6,570.8 320.9,571.7 C325.2,572.6 330.8,573.7 335.0,574.2 C339.2,574.8 342.2,574.9 346.0,575.0 C349.8,575.1 353.8,575.0 357.6,574.8 C361.4,574.5 365.3,573.8 369.0,573.5 C372.7,573.2 377.2,573.4 380.0,573.3 C382.8,573.2 382.5,573.2 385.5,572.8 C388.5,572.4 393.9,571.6 398.2,570.9 C402.4,570.1 406.8,569.3 411.0,568.3 C415.2,567.3 419.4,566.0 423.7,565.0 C428.0,564.0 434.6,562.5 436.8,562.0 L385.0,561.8 L306.9,432.1 Z" fill="#00f7b5"/>
<path d="M206.5,432.2 C207.0,433.9 208.2,438.8 209.6,442.7 C210.9,446.6 212.8,451.2 214.6,455.5 C216.4,459.8 218.6,463.9 220.4,468.2 C222.2,472.4 223.5,476.8 225.5,481.0 C227.5,485.2 230.1,490.3 232.5,493.7 C234.9,497.1 237.1,498.6 240.0,501.5 C242.9,504.4 246.7,507.6 250.0,510.8 C253.3,514.0 256.4,517.5 259.9,520.8 C263.4,524.1 267.5,527.9 271.0,530.6 C274.5,533.3 279.2,535.8 281.0,537.0 C282.8,538.2 279.7,536.4 281.9,538.1 C284.1,539.8 290.2,544.4 294.1,547.2 C298.1,550.0 301.8,552.7 305.6,554.9 C309.4,557.1 313.2,558.6 317.0,560.2 C320.8,561.9 325.5,563.6 328.5,564.8 C331.5,566.0 332.2,566.4 335.0,567.3 C337.8,568.2 341.2,569.4 345.0,570.3 C348.8,571.2 353.6,572.1 357.6,572.6 C361.6,573.1 365.3,573.4 369.0,573.5 C372.7,573.6 377.2,573.4 380.0,573.3 C382.8,573.2 382.5,573.2 385.5,572.8 C388.5,572.4 393.9,571.6 398.2,570.9 C402.4,570.1 406.8,569.3 411.0,568.3 C415.2,567.3 419.4,566.0 423.7,565.0 C428.0,564.0 434.6,562.5 436.8,562.0 L385.0,561.8 L306.9,432.1 Z" fill="#0a2cf5"/>
<path d="M206.5,432.2 C207.4,433.9 209.8,438.8 212.1,442.7 C214.4,446.6 217.5,451.2 220.4,455.5 C223.3,459.8 226.6,463.9 229.3,468.2 C232.1,472.4 234.5,477.2 236.9,481.0 C239.3,484.8 241.2,487.6 244.0,491.0 C246.8,494.4 250.7,497.8 253.4,501.5 C256.1,505.2 257.5,509.5 260.3,513.5 C263.1,517.5 266.6,521.6 270.0,525.5 C273.4,529.4 279.0,534.9 281.0,537.0 C283.0,539.1 279.7,536.4 281.9,538.1 C284.1,539.8 290.2,544.4 294.1,547.2 C298.1,550.0 301.8,552.7 305.6,554.9 C309.4,557.1 313.2,558.6 317.0,560.2 C320.8,561.9 325.5,563.6 328.5,564.8 C331.5,566.0 332.2,566.4 335.0,567.3 C337.8,568.2 341.2,569.4 345.0,570.3 C348.8,571.2 353.6,572.1 357.6,572.6 C361.6,573.1 365.3,573.4 369.0,573.5 C372.7,573.6 377.2,573.4 380.0,573.3 C382.8,573.2 382.5,573.2 385.5,572.8 C388.5,572.4 393.9,571.6 398.2,570.9 C402.4,570.1 406.8,569.3 411.0,568.3 C415.2,567.3 419.4,566.0 423.7,565.0 C428.0,564.0 434.6,562.5 436.8,562.0 L385.0,561.8 L306.9,432.1 Z" fill="#5a05fa"/>
<path d="M206.5,432.2 C208.2,433.9 213.4,438.8 216.6,442.7 C219.8,446.6 221.8,451.1 225.5,455.5 C229.2,459.9 235.7,464.9 238.5,469.0 C241.3,473.1 240.4,476.8 242.2,480.4 C244.0,484.0 246.4,486.8 249.4,490.6 C252.4,494.4 256.4,499.5 260.0,503.0 C263.6,506.5 267.5,508.9 270.8,511.5 C274.1,514.1 276.5,516.0 280.0,518.5 C283.5,521.0 288.3,524.0 291.6,526.5 C294.9,529.0 296.9,531.1 300.0,533.4 C303.1,535.6 306.9,538.0 310.0,540.0 C313.1,542.0 316.0,543.4 318.8,545.1 C321.6,546.9 324.3,548.8 327.0,550.5 C329.7,552.2 331.2,553.8 335.0,555.5 C338.8,557.2 345.0,559.1 350.0,560.6 C355.0,562.1 360.0,563.8 365.0,564.8 C370.0,565.8 375.8,566.4 380.0,566.8 C384.2,567.2 387.0,567.3 390.0,567.4 C393.0,567.5 394.7,567.5 398.2,567.3 C401.7,567.1 406.8,566.6 411.0,566.1 C415.2,565.6 419.4,564.8 423.7,564.1 C428.0,563.4 434.6,562.4 436.8,562.0 L385.0,561.8 L306.9,432.1 Z" fill="#e200ff"/>
<path d="M238.5,469.0 C239.3,469.7 241.5,471.1 243.5,473.0 C245.5,474.9 247.8,477.5 250.5,480.4 C253.2,483.3 256.5,487.2 259.5,490.6 C262.5,494.0 265.7,497.4 268.5,500.8 C271.3,504.2 273.8,507.7 276.5,511.0 C279.2,514.3 282.0,517.9 284.5,520.5 C287.0,523.1 290.4,525.5 291.6,526.5 C289.7,525.2 283.5,521.0 280.0,518.5 C276.5,516.0 274.1,514.1 270.8,511.5 C267.5,508.9 263.6,506.5 260.0,503.0 C256.4,499.5 252.4,494.4 249.4,490.6 C246.4,486.8 244.0,484.0 242.2,480.4 C240.4,476.8 239.1,470.9 238.5,469.0 Z" fill="#00f7b5"/>
<path d="M233.7,432.1 C234.4,433.8 236.4,438.8 238.2,442.7 C240.0,446.6 242.0,451.2 244.5,455.5 C247.0,459.8 250.8,464.9 253.0,468.2 C255.2,471.5 255.9,472.7 257.5,475.1 C259.1,477.5 260.7,480.1 262.5,482.6 C264.3,485.1 266.4,487.5 268.5,490.0 C270.6,492.5 272.6,495.0 274.8,497.5 C277.0,500.0 279.4,502.5 281.5,505.0 C283.6,507.5 285.5,510.0 287.5,512.5 C289.5,515.0 291.3,517.3 293.5,520.0 C295.7,522.7 297.9,526.0 300.5,528.7 C303.1,531.4 305.9,533.7 309.0,536.0 C312.1,538.3 315.8,540.6 318.8,542.6 C321.8,544.6 324.3,546.2 327.0,548.0 C329.7,549.8 331.2,551.7 335.0,553.6 C338.8,555.5 345.0,557.6 350.0,559.3 C355.0,561.0 360.0,562.7 365.0,563.8 C370.0,564.9 375.8,565.4 380.0,565.9 C384.2,566.4 387.0,566.4 390.0,566.5 C393.0,566.6 394.7,566.6 398.2,566.4 C401.7,566.2 406.8,565.8 411.0,565.3 C415.2,564.8 419.4,564.1 423.7,563.6 C428.0,563.1 434.6,562.3 436.8,562.0 L385.0,561.8 L306.9,432.1 Z" fill="#ff0084"/>
<polygon points="259.8,445 260.3,453 261.4,460 263.1,467.6 267.4,475.1 272.1,482.6 277,488 278.5,487 274,479 270,470.5 266,462 263,452" fill="#e200ff"/>
<path d="M257.3,432.1 C257.5,433.4 258.3,437.0 259.0,440.0 C259.7,443.0 260.5,446.7 261.5,450.0 C262.5,453.3 263.6,456.7 265.0,460.0 C266.4,463.3 268.2,466.6 270.0,470.0 C271.8,473.4 273.7,477.0 275.5,480.5 C277.3,484.0 278.9,487.7 281.0,491.0 C283.1,494.3 285.9,497.2 288.3,500.5 C290.7,503.8 293.0,507.2 295.5,510.5 C298.0,513.8 300.8,517.3 303.4,520.0 C306.0,522.7 308.5,524.6 311.0,526.5 C313.5,528.4 314.9,529.2 318.2,531.5 C321.5,533.8 326.8,537.2 331.0,540.0 C335.2,542.8 339.5,545.6 343.7,548.0 C347.9,550.4 352.1,552.4 356.4,554.2 C360.6,556.0 365.3,557.5 369.2,558.7 C373.1,559.9 377.4,560.7 380.0,561.2 C382.6,561.7 384.2,561.7 385.0,561.8 L385.0,561.8 L306.9,432.1 Z" fill="#ff0000"/>
<path d="M281.7,432.1 A175.5 174.8 0 0 0 385.0,561.8 L306.9,432.1 Z" fill="#00ff00"/>
<line x1="284.9" y1="432.1" x2="284.9" y2="446.0" stroke="#0a7a0a" stroke-width="0.7" />
<line x1="288.0" y1="432.1" x2="288.0" y2="456.5" stroke="#0a7a0a" stroke-width="0.7" />
<line x1="291.2" y1="432.1" x2="291.2" y2="465.1" stroke="#0a7a0a" stroke-width="0.7" />
<line x1="294.3" y1="432.1" x2="294.3" y2="472.6" stroke="#0a7a0a" stroke-width="0.7" />
<line x1="297.4" y1="432.1" x2="297.4" y2="479.2" stroke="#0a7a0a" stroke-width="0.7" />
<line x1="300.6" y1="432.1" x2="300.6" y2="485.2" stroke="#0a7a0a" stroke-width="0.7" />
<line x1="303.7" y1="432.1" x2="303.7" y2="490.7" stroke="#0a7a0a" stroke-width="0.7" />
<line x1="306.9" y1="432.1" x2="306.9" y2="495.7" stroke="#0a7a0a" stroke-width="0.7" />
<line x1="310.1" y1="437.5" x2="310.1" y2="500.6" stroke="#0a7a0a" stroke-width="0.7" />
<line x1="313.4" y1="442.9" x2="313.4" y2="505.1" stroke="#0a7a0a" stroke-width="0.7" />
<line x1="316.6" y1="448.3" x2="316.6" y2="509.4" stroke="#0a7a0a" stroke-width="0.7" />
<line x1="319.9" y1="453.7" x2="319.9" y2="513.4" stroke="#0a7a0a" stroke-width="0.7" />
<line x1="323.1" y1="459.1" x2="323.1" y2="517.1" stroke="#0a7a0a" stroke-width="0.7" />
<line x1="326.4" y1="464.5" x2="326.4" y2="520.7" stroke="#0a7a0a" stroke-width="0.7" />
<line x1="329.6" y1="469.9" x2="329.6" y2="524.0" stroke="#0a7a0a" stroke-width="0.7" />
<line x1="332.9" y1="475.3" x2="332.9" y2="527.2" stroke="#0a7a0a" stroke-width="0.7" />
<line x1="336.2" y1="480.7" x2="336.2" y2="530.3" stroke="#0a7a0a" stroke-width="0.7" />
<line x1="339.4" y1="486.1" x2="339.4" y2="533.2" stroke="#0a7a0a" stroke-width="0.7" />
<line x1="342.7" y1="491.5" x2="342.7" y2="535.9" stroke="#0a7a0a" stroke-width="0.7" />
<line x1="345.9" y1="496.9" x2="345.9" y2="538.5" stroke="#0a7a0a" stroke-width="0.7" />
<line x1="349.2" y1="502.3" x2="349.2" y2="541.0" stroke="#0a7a0a" stroke-width="0.7" />
<line x1="352.4" y1="507.7" x2="352.4" y2="543.4" stroke="#0a7a0a" stroke-width="0.7" />
<line x1="355.7" y1="513.1" x2="355.7" y2="545.7" stroke="#0a7a0a" stroke-width="0.7" />
<line x1="358.9" y1="518.5" x2="358.9" y2="547.8" stroke="#0a7a0a" stroke-width="0.7" />
<line x1="362.2" y1="523.9" x2="362.2" y2="549.9" stroke="#0a7a0a" stroke-width="0.7" />
<line x1="365.4" y1="529.3" x2="365.4" y2="551.8" stroke="#0a7a0a" stroke-width="0.7" />
<line x1="368.7" y1="534.7" x2="368.7" y2="553.7" stroke="#0a7a0a" stroke-width="0.7" />
<line x1="372.0" y1="540.1" x2="372.0" y2="555.5" stroke="#0a7a0a" stroke-width="0.7" />
<line x1="375.2" y1="545.5" x2="375.2" y2="557.2" stroke="#0a7a0a" stroke-width="0.7" />
<line x1="378.5" y1="550.9" x2="378.5" y2="558.8" stroke="#0a7a0a" stroke-width="0.7" />
<line x1="381.7" y1="556.3" x2="381.7" y2="560.3" stroke="#0a7a0a" stroke-width="0.7" />
<path d="M281.7,432.1 A175.5 174.8 0 0 0 385.0,561.8" fill="none" stroke="#fff" stroke-width="1.4"/>
<rect x="202.7" y="406.1" width="104.2" height="25.9" fill="url(#chk)"/>
<line x1="202.7" y1="406.1" x2="306.9" y2="406.1" stroke="#666" stroke-width="1" />
<circle cx="202.7" cy="406.1" r="1.4" fill="#000"/>
<circle cx="306.9" cy="406.1" r="1.4" fill="#000"/>
<line x1="202.7" y1="416.5" x2="202.7" y2="426.9" stroke="#666" stroke-width="0.5" />
<polygon points="202.7,431.8 200.0,425.4 205.3,425.4" fill="#000"/>
<line x1="223.5" y1="416.5" x2="223.5" y2="426.9" stroke="#666" stroke-width="0.5" />
<polygon points="223.5,431.8 220.9,425.4 226.2,425.4" fill="#000"/>
<line x1="244.4" y1="416.5" x2="244.4" y2="426.9" stroke="#666" stroke-width="0.5" />
<polygon points="244.4,431.8 241.7,425.4 247.0,425.4" fill="#000"/>
<line x1="265.2" y1="416.5" x2="265.2" y2="426.9" stroke="#666" stroke-width="0.5" />
<polygon points="265.2,431.8 262.5,425.4 267.8,425.4" fill="#000"/>
<line x1="286.0" y1="416.5" x2="286.0" y2="426.9" stroke="#666" stroke-width="0.5" />
<polygon points="286.0,431.8 283.4,425.4 288.7,425.4" fill="#000"/>
<line x1="306.9" y1="416.5" x2="306.9" y2="426.9" stroke="#666" stroke-width="0.5" />
<polygon points="306.9,431.8 304.2,425.4 309.5,425.4" fill="#000"/>
<polyline points="202.7,432.1 306.9,432.1 385.0,561.8 528.2,561.8 528.2,626.6 202.7,626.6" fill="none" stroke="#000" stroke-width="1.3"/>
<line x1="202.7" y1="360.1" x2="202.7" y2="432.1" stroke="#999" stroke-width="0.9" />
<line x1="202.7" y1="432.1" x2="202.7" y2="626.6" stroke="#000" stroke-width="1.5" />
<text x="198.3" y="629.3" font-size="7.8" text-anchor="end" font-weight="normal" fill="#333" >0</text>
<line x1="202.7" y1="600.7" x2="211.8" y2="600.7" stroke="#777" stroke-width="0.9" />
<text x="198.3" y="603.3" font-size="7.8" text-anchor="end" font-weight="normal" fill="#333" >2</text>
<line x1="202.7" y1="574.7" x2="211.8" y2="574.7" stroke="#777" stroke-width="0.9" />
<text x="198.3" y="577.4" font-size="7.8" text-anchor="end" font-weight="normal" fill="#333" >4</text>
<line x1="202.7" y1="548.8" x2="211.8" y2="548.8" stroke="#777" stroke-width="0.9" />
<text x="198.3" y="551.4" font-size="7.8" text-anchor="end" font-weight="normal" fill="#333" >6</text>
<line x1="202.7" y1="522.8" x2="211.8" y2="522.8" stroke="#777" stroke-width="0.9" />
<text x="198.3" y="525.5" font-size="7.8" text-anchor="end" font-weight="normal" fill="#333" >8</text>
<line x1="202.7" y1="496.9" x2="211.8" y2="496.9" stroke="#777" stroke-width="0.9" />
<text x="198.3" y="499.6" font-size="7.8" text-anchor="end" font-weight="normal" fill="#333" >10</text>
<line x1="202.7" y1="471.0" x2="211.8" y2="471.0" stroke="#777" stroke-width="0.9" />
<text x="198.3" y="473.6" font-size="7.8" text-anchor="end" font-weight="normal" fill="#333" >12</text>
<line x1="202.7" y1="445.0" x2="211.8" y2="445.0" stroke="#777" stroke-width="0.9" />
<text x="198.3" y="447.7" font-size="7.8" text-anchor="end" font-weight="normal" fill="#333" >14</text>
<line x1="202.7" y1="419.1" x2="211.8" y2="419.1" stroke="#777" stroke-width="0.9" />
<text x="198.3" y="421.7" font-size="7.8" text-anchor="end" font-weight="normal" fill="#333" >16</text>
<line x1="202.7" y1="393.1" x2="211.8" y2="393.1" stroke="#777" stroke-width="0.9" />
<text x="198.3" y="395.8" font-size="7.8" text-anchor="end" font-weight="normal" fill="#333" >18</text>
<line x1="202.7" y1="367.2" x2="211.8" y2="367.2" stroke="#777" stroke-width="0.9" />
<text x="198.3" y="369.9" font-size="7.8" text-anchor="end" font-weight="normal" fill="#333" >20</text>
<text x="202.7" y="639.2" font-size="7.8" text-anchor="middle" font-weight="normal" fill="#333" >0</text>
<line x1="228.7" y1="626.6" x2="228.7" y2="618.8" stroke="#777" stroke-width="0.9" />
<text x="228.7" y="639.2" font-size="7.8" text-anchor="middle" font-weight="normal" fill="#333" >2</text>
<line x1="254.8" y1="626.6" x2="254.8" y2="618.8" stroke="#777" stroke-width="0.9" />
<text x="254.8" y="639.2" font-size="7.8" text-anchor="middle" font-weight="normal" fill="#333" >4</text>
<line x1="280.8" y1="626.6" x2="280.8" y2="618.8" stroke="#777" stroke-width="0.9" />
<text x="280.8" y="639.2" font-size="7.8" text-anchor="middle" font-weight="normal" fill="#333" >6</text>
<line x1="306.9" y1="626.6" x2="306.9" y2="618.8" stroke="#777" stroke-width="0.9" />
<text x="306.9" y="639.2" font-size="7.8" text-anchor="middle" font-weight="normal" fill="#333" >8</text>
<line x1="332.9" y1="626.6" x2="332.9" y2="618.8" stroke="#777" stroke-width="0.9" />
<text x="332.9" y="639.2" font-size="7.8" text-anchor="middle" font-weight="normal" fill="#333" >10</text>
<line x1="358.9" y1="626.6" x2="358.9" y2="618.8" stroke="#777" stroke-width="0.9" />
<text x="358.9" y="639.2" font-size="7.8" text-anchor="middle" font-weight="normal" fill="#333" >12</text>
<line x1="385.0" y1="626.6" x2="385.0" y2="618.8" stroke="#777" stroke-width="0.9" />
<text x="385.0" y="639.2" font-size="7.8" text-anchor="middle" font-weight="normal" fill="#333" >14</text>
<line x1="411.0" y1="626.6" x2="411.0" y2="618.8" stroke="#777" stroke-width="0.9" />
<text x="411.0" y="639.2" font-size="7.8" text-anchor="middle" font-weight="normal" fill="#333" >16</text>
<line x1="437.1" y1="626.6" x2="437.1" y2="618.8" stroke="#777" stroke-width="0.9" />
<text x="437.1" y="639.2" font-size="7.8" text-anchor="middle" font-weight="normal" fill="#333" >18</text>
<line x1="463.1" y1="626.6" x2="463.1" y2="618.8" stroke="#777" stroke-width="0.9" />
<text x="463.1" y="639.2" font-size="7.8" text-anchor="middle" font-weight="normal" fill="#333" >20</text>
<line x1="489.1" y1="626.6" x2="489.1" y2="618.8" stroke="#777" stroke-width="0.9" />
<text x="489.1" y="639.2" font-size="7.8" text-anchor="middle" font-weight="normal" fill="#333" >22</text>
<line x1="515.2" y1="626.6" x2="515.2" y2="618.8" stroke="#777" stroke-width="0.9" />
<text x="515.2" y="639.2" font-size="7.8" text-anchor="middle" font-weight="normal" fill="#333" >24</text>
<text x="541.2" y="639.2" font-size="7.8" text-anchor="middle" font-weight="normal" fill="#333" >26</text>
<line x1="528.2" y1="626.6" x2="543.8" y2="626.6" stroke="#888" stroke-width="0.9" />
<line x1="541.2" y1="626.6" x2="541.2" y2="620.1" stroke="#999" stroke-width="0.8" />
<line x1="206.5" y1="432.1" x2="306.9" y2="432.1" stroke="#e02020" stroke-width="1.2" stroke-dasharray="3 1.2"/>
<line x1="385.0" y1="561.8" x2="436.8" y2="561.8" stroke="#e02020" stroke-width="1.4" stroke-dasharray="3 1.2"/>
<line x1="306.9" y1="429.1" x2="306.9" y2="435.1" stroke="#e02020" stroke-width="1" />
<line x1="385.0" y1="558.8" x2="385.0" y2="564.8" stroke="#e02020" stroke-width="1" />
<line x1="294.9" y1="473.9" x2="277.4" y2="483.9" stroke="#a03030" stroke-width="5.0" />
<line x1="294.9" y1="473.9" x2="277.8" y2="483.7" stroke="#fff" stroke-width="3.8" />
<line x1="220.3" y1="516.7" x2="322.5" y2="458.0" stroke="#000" stroke-width="2.5" stroke-dasharray="6.5 2.8"/>
<circle cx="220.3" cy="516.7" r="1.4" fill="#000"/>
<line x1="335.5" y1="450.5" x2="327.6" y2="455.0" stroke="#111" stroke-width="0.6" />
<polygon points="324.2,457.0 328.8,451.9 330.9,455.6" fill="#111"/>
<line x1="319.0" y1="512.3" x2="301.6" y2="522.4" stroke="#a03030" stroke-width="5.0" />
<line x1="319.0" y1="512.3" x2="302.0" y2="522.1" stroke="#fff" stroke-width="3.8" />
<line x1="243.7" y1="555.7" x2="345.9" y2="496.9" stroke="#000" stroke-width="2.5" stroke-dasharray="6.5 2.8"/>
<circle cx="243.7" cy="555.7" r="1.4" fill="#000"/>
<line x1="358.9" y1="489.4" x2="351.0" y2="493.9" stroke="#111" stroke-width="0.6" />
<polygon points="347.7,495.9 352.2,490.8 354.3,494.5" fill="#111"/>
<line x1="354.1" y1="544.6" x2="336.6" y2="554.6" stroke="#a03030" stroke-width="5.0" />
<line x1="354.1" y1="544.6" x2="337.1" y2="554.4" stroke="#fff" stroke-width="3.8" />
<line x1="267.1" y1="594.6" x2="369.4" y2="535.8" stroke="#000" stroke-width="2.5" stroke-dasharray="6.5 2.8"/>
<circle cx="267.1" cy="594.6" r="1.4" fill="#000"/>
<line x1="382.3" y1="528.3" x2="374.5" y2="532.9" stroke="#111" stroke-width="0.6" />
<polygon points="371.1,534.8 375.7,529.7 377.8,533.4" fill="#111"/>
<text x="233.6" y="516.5" font-size="8" text-anchor="start" font-weight="normal" fill="#102030" >Top Nail</text>
<text x="269.0" y="549.2" font-size="8" text-anchor="start" font-weight="normal" fill="#101040" >Middle Nail</text>
<text x="316.1" y="573.9" font-size="8" text-anchor="start" font-weight="normal" fill="#101040" >Bottom Nail</text>
<text x="227.3" y="583.8" font-size="7.9" text-anchor="start" font-weight="normal" fill="#000" >Slip Surface</text>
<line x1="249.4" y1="574.1" x2="340.2" y2="539.7" stroke="#101040" stroke-width="0.7" />
<polygon points="343.0,538.6 338.9,542.0 337.7,538.8" fill="#101040"/>
<polygon points="198.7,428.2 198.7,435.9 202.7,432.1" fill="#0a9a2a"/>
<polygon points="532.2,558.1 532.2,565.4 527.2,561.8" fill="#0a9a2a"/>
<line x1="206.6" y1="429.1" x2="206.6" y2="435.1" stroke="#e02020" stroke-width="1" />
<line x1="436.4" y1="558.2" x2="436.4" y2="565.2" stroke="#e02020" stroke-width="1.2" />
<line x1="433.9" y1="561.8" x2="438.9" y2="561.8" stroke="#e02020" stroke-width="1" />
<circle cx="350.6" cy="399.3" r="3.4" fill="#f01010"/>
<text x="365.2" y="393.9" font-size="9.3" text-anchor="middle" font-weight="bold" fill="#000" >1.108</text>
<line x1="354.1" y1="395.5" x2="376.3" y2="395.5" stroke="#000" stroke-width="0.9" />
<line x1="364.8" y1="417.4" x2="356.3" y2="407.3" stroke="#000" stroke-width="0.8" />
<polygon points="354.6,405.2 358.8,407.6 356.2,409.7" fill="#000"/>
<text x="367.6" y="426.7" font-size="7.8" text-anchor="middle" font-weight="normal" fill="#000" >FOS</text>
<line x1="202.7" y1="361.7" x2="202.7" y2="381.0" stroke="#111" stroke-width="0.9" />
<line x1="306.9" y1="361.7" x2="306.9" y2="381.0" stroke="#111" stroke-width="0.9" />
<line x1="241.5" y1="370.2" x2="205.6" y2="370.2" stroke="#222" stroke-width="0.9" />
<polygon points="202.7,370.2 207.5,368.0 207.5,372.4" fill="#222"/>
<line x1="263.2" y1="370.2" x2="304.0" y2="370.2" stroke="#222" stroke-width="0.9" />
<polygon points="306.9,370.2 302.1,372.4 302.1,368.0" fill="#222"/>
<text x="252.0" y="372.7" font-size="7.9" text-anchor="middle" font-weight="normal" fill="#000" >8 m</text>
<line x1="165.7" y1="432.1" x2="186.0" y2="432.1" stroke="#111" stroke-width="0.9" />
<line x1="165.8" y1="626.6" x2="186.5" y2="626.6" stroke="#111" stroke-width="0.9" />
<line x1="175.6" y1="516.1" x2="175.6" y2="434.9" stroke="#222" stroke-width="0.9" />
<polygon points="175.6,432.1 177.8,436.9 173.4,436.9" fill="#222"/>
<line x1="175.6" y1="546.7" x2="175.6" y2="623.7" stroke="#222" stroke-width="0.9" />
<polygon points="175.6,626.6 173.4,621.8 177.8,621.8" fill="#222"/>
<text transform="translate(178.4,531.5) rotate(-90)" font-size="7.9" text-anchor="middle">15 m</text>
<line x1="385.0" y1="533.6" x2="385.0" y2="547.5" stroke="#111" stroke-width="0.9" />
<line x1="528.2" y1="533.6" x2="528.2" y2="547.5" stroke="#111" stroke-width="0.9" />
<line x1="453.0" y1="541.1" x2="387.9" y2="541.1" stroke="#222" stroke-width="0.9" />
<polygon points="385.0,541.1 389.8,538.9 389.8,543.3" fill="#222"/>
<line x1="477.5" y1="541.1" x2="525.3" y2="541.1" stroke="#222" stroke-width="0.9" />
<polygon points="528.2,541.1 523.4,543.3 523.4,538.9" fill="#222"/>
<text x="464.5" y="543.6" font-size="7.9" text-anchor="middle" font-weight="normal" fill="#000" >11 m</text>
<line x1="535.5" y1="561.8" x2="558.4" y2="561.8" stroke="#111" stroke-width="0.9" />
<line x1="535.5" y1="626.6" x2="558.4" y2="626.6" stroke="#111" stroke-width="0.9" />
<line x1="548.0" y1="580.7" x2="548.0" y2="564.6" stroke="#222" stroke-width="0.9" />
<polygon points="548.0,561.8 550.2,566.5 545.8,566.5" fill="#222"/>
<line x1="548.0" y1="601.6" x2="548.0" y2="623.7" stroke="#222" stroke-width="0.9" />
<polygon points="548.0,626.6 545.8,621.8 550.2,621.8" fill="#222"/>
<text x="548.0" y="594.7" font-size="7.9" text-anchor="middle" font-weight="normal" fill="#000" >5 m</text>
<line x1="202.7" y1="641.8" x2="202.7" y2="664.3" stroke="#111" stroke-width="0.9" />
<line x1="528.2" y1="641.8" x2="528.2" y2="664.3" stroke="#111" stroke-width="0.9" />
<line x1="338.0" y1="652.3" x2="205.6" y2="652.3" stroke="#222" stroke-width="0.9" />
<polygon points="202.7,652.3 207.5,650.1 207.5,654.5" fill="#222"/>
<line x1="363.0" y1="652.3" x2="525.3" y2="652.3" stroke="#222" stroke-width="0.9" />
<polygon points="528.2,652.3 523.4,654.5 523.4,650.1" fill="#222"/>
<text x="350.0" y="654.8" font-size="7.9" text-anchor="middle" font-weight="normal" fill="#000" >25 m</text>
<rect x="401.9" y="407.7" width="134.6" height="74.0" fill="#fff" stroke="#333" stroke-width="1"/>
<text x="408.0" y="418.2" font-size="8.05" text-anchor="start" font-weight="normal" fill="#000" >Soil: Sand</text>
<text x="408.0" y="427.6" font-size="8.05" text-anchor="start" font-weight="normal" fill="#000" >Model: Mohr – Coulomb</text>
<text x="408.0" y="437.8" font-size="8.05" text-anchor="start" font-weight="normal" fill="#000" ><tspan font-style="italic">γ</tspan><tspan font-size="5.3" dy="1.5" font-style="italic">bulk</tspan><tspan dy="-1.5"> = 17.3 kN/m</tspan><tspan font-size="5.0" dy="-3">3</tspan></text>
<text x="408.0" y="446.8" font-size="8.05" text-anchor="start" font-weight="normal" fill="#000" ><tspan font-style="italic">c</tspan> = 1.37 kPa</text>
<text x="408.0" y="456.2" font-size="8.05" text-anchor="start" font-weight="normal" fill="#000" ><tspan font-style="italic">ϕ</tspan> = 30°</text>
<text x="408.0" y="465.4" font-size="8.05" text-anchor="start" font-weight="normal" fill="#000" >Slope angle with horizontal = 60°</text>
<text x="408.0" y="475.0" font-size="8.05" text-anchor="start" font-weight="normal" fill="#000" >Nail inclination with horizontal = 30°</text>
<text x="166.8" y="353.0" font-size="14.6" text-anchor="start" font-weight="bold" fill="#000" >(c)</text>
</g>
</g>
</svg></body></html>
